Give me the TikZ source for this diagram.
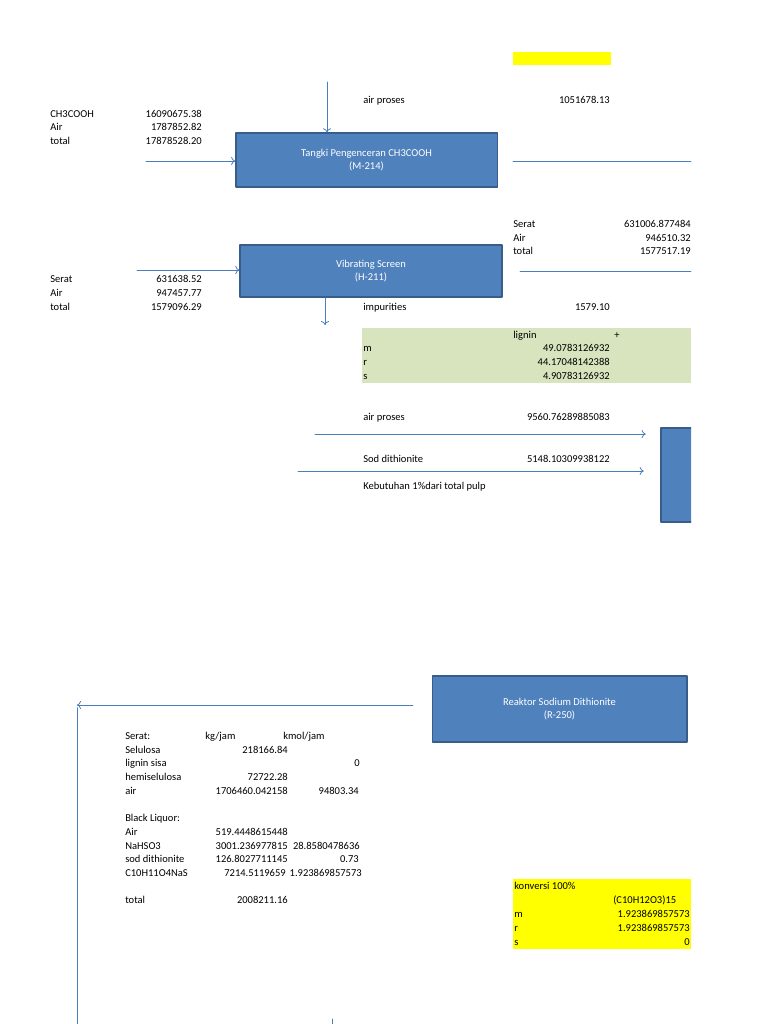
\documentclass[tikz,border=0pt]{standalone}
\usepackage{fontspec}
\setmainfont{Carlito}
\usetikzlibrary{arrows.meta}
\definecolor{unitblue}{HTML}{4F81BD}
\definecolor{unitedge}{HTML}{385D8A}
\definecolor{flowblue}{HTML}{4A7EBB}
\definecolor{tabgreen}{HTML}{D7E4BD}
\definecolor{tabyellow}{HTML}{FFFF00}
\tikzset{
  unit/.style={draw=unitedge, fill=unitblue, line width=1pt, text=white, align=center, inner sep=0pt},
  flow/.style={draw=flowblue, line width=0.6pt},
  lbl/.style={anchor=base west, inner sep=0pt},
  val/.style={anchor=base east, inner sep=0pt}
}
\begin{document}
\begin{tikzpicture}[x=0.75pt, y=-0.75pt, font=\fontsize{7.9}{9.6}\selectfont, line join=round, line cap=round, >={To[length=3pt,width=6pt]}]
\useasboundingbox (0,0) rectangle (768,1024);
\fill[tabyellow] (513,52) rectangle (611,65);
% tangki pengenceran
\node[unit, minimum width=196pt, minimum height=40.5pt] (m214) at (366.5,160) {Tangki Pengenceran CH3COOH\\(M-214)};
\coordinate (apin) at (327,82);
\draw[flow,->] (apin) -- (m214.north -| apin);
\node[lbl] (ap1) at (363,103.5) {air proses};
\node[val] (ap1v) at (610,103.5) {1051678.13};
\node[lbl] (acid) at (50,117.5) {CH3COOH};
\node[val] (acidv) at (202,117.5) {16090675.38};
\node[lbl] (acidair) at (50,130.5) {Air};
\node[val] (acidairv) at (202,130.5) {1787852.82};
\node[lbl] (acidtot) at (50,144.5) {total};
\node[val] (acidtotv) at (202,144.5) {17878528.20};
\coordinate (acidin) at (146,161);
\draw[flow,->] (acidin) -- (m214.west |- acidin);
\coordinate (m214a) at (513,161);
\coordinate (m214b) at (691,161);
\draw[flow] (m214a) -- (m214b);
% vibrating screen
\node[unit, minimum width=196.5pt, minimum height=39pt] (h211) at (371,271) {Vibrating Screen\\(H-211)};
\coordinate (pulpin) at (137,270);
\draw[flow,->] (pulpin) -- (h211.west |- pulpin);
\coordinate (impout) at (325,325);
\draw[flow,->] (h211.south -| impout) -- (impout);
\coordinate (h211a) at (520,271);
\coordinate (h211b) at (691,271);
\draw[flow] (h211a) -- (h211b);
\node[lbl] (ser1) at (513,227.5) {Serat};
\node[val] (ser1v) at (691,227.5) {631006.877484};
\node[lbl] (air1) at (513,241.5) {Air};
\node[val] (air1v) at (691,241.5) {946510.32};
\node[lbl] (tot1) at (513,254.5) {total};
\node[val] (tot1v) at (691,254.5) {1577517.19};
\node[lbl] (ser2) at (50,282.5) {Serat};
\node[val] (ser2v) at (202,282.5) {631638.52};
\node[lbl] (air2) at (50,296.5) {Air};
\node[val] (air2v) at (202,296.5) {947457.77};
\node[lbl] (tot2) at (50,310.5) {total};
\node[val] (tot2v) at (202,310.5) {1579096.29};
\node[lbl] (imp) at (363,310.5) {impurities};
\node[val] (impv) at (610,310.5) {1579.10};
% lignin
\fill[tabgreen] (362,328) rectangle (691,383);
\node[lbl] (lig) at (513,338.5) {lignin};
\node[lbl] (ligplus) at (614,338.5) {+};
\node[lbl] (ligm) at (363,351.5) {m};
\node[val] (ligmv) at (610,351.5) {49.0783126932};
\node[lbl] (ligr) at (363,365.5) {r};
\node[val] (ligrv) at (610,365.5) {44.17048142388};
\node[lbl] (ligs) at (363,379.5) {s};
\node[val] (ligsv) at (610,379.5) {4.90783126932};
% tangki
\begin{scope}
\clip (0,0) rectangle (691,1024);
\node[unit, minimum width=45pt, minimum height=70.5pt] (tank) at (691,475) {};
\end{scope}
\node[lbl] (ap2) at (363,420.5) {air proses};
\node[val] (ap2v) at (610,420.5) {9560.76289885083};
\coordinate (ap2in) at (315,434);
\draw[flow,->] (ap2in) -- ([xshift=-11pt]tank.west |- ap2in);
\node[lbl] (sod) at (363,462.5) {Sod dithionite};
\node[val] (sodv) at (610,462.5) {5148.10309938122};
\coordinate (sodin) at (298,471);
\draw[flow,->] (sodin) -- ([xshift=-12.5pt]tank.west |- sodin);
\node[lbl] (sodnote) at (363,489.5) {Kebutuhan 1\%dari total pulp};
% reaktor
\node[unit, minimum width=191pt, minimum height=49.5pt] (r250) at (559.5,709) {Reaktor Sodium Dithionite\\(R-250)};
\coordinate (r250out) at (77,705);
\coordinate (r250down) at (77,1024);
\draw[flow,->] ([xshift=-14pt]r250.west |- r250out) -- (r250out);
\draw[flow] ([yshift=-2pt]r250out) -- (r250down);
\coordinate (tick) at (332,1019);
\draw[flow] (tick) -- (tick |- r250down);
\node[lbl] (hser) at (125,739.5) {Serat:};
\node[lbl] (hkg) at (205,739.5) {kg/jam};
\node[lbl] (hkmol) at (283,739.5) {kmol/jam};
\node[lbl] (sel) at (125,753.2) {Selulosa};
\node[val] (selv) at (288,753.2) {218166.84};
\node[lbl] (ls) at (125,766.9) {lignin sisa};
\node[val] (lsv) at (360,766.9) {0};
\node[lbl] (hem) at (125,780.6) {hemiselulosa};
\node[val] (hemv) at (288,780.6) {72722.28};
\node[lbl] (air3) at (125,794.3) {air};
\node[val] (air3v) at (288,794.3) {1706460.042158};
\node[val] (air3m) at (359,794.3) {94803.34};
\node[lbl] (bl) at (125,821.7) {Black Liquor:};
\node[lbl] (blair) at (125,835.4) {Air};
\node[val] (blairv) at (288,835.4) {519.4448615448};
\node[lbl] (nah) at (125,849.1) {NaHSO3};
\node[val] (nahv) at (288,849.1) {3001.236977815};
\node[val] (nahm) at (360,849.1) {28.8580478636};
\node[lbl] (sdt) at (125,862.8) {sod dithionite};
\node[val] (sdtv) at (288,862.8) {126.8027711145};
\node[val] (sdtm) at (359,862.8) {0.73};
\node[lbl] (cna) at (125,876.5) {C10H11O4NaS};
\node[val] (cnav) at (286,876.5) {7214.5119659};
\node[val] (cnam) at (362,876.5) {1.923869857573};
\node[lbl] (tot3) at (125,903.9) {total};
\node[val] (tot3v) at (288,903.9) {2008211.16};
% konversi
\fill[tabyellow] (513,879) rectangle (691,949);
\node[lbl] (konv) at (514,889.5) {konversi 100\%};
\node[lbl] (poly) at (613,903.5) {(C10H12O3)15};
\node[lbl] (km) at (514,917.5) {m};
\node[val] (kmv) at (690,917.5) {1.923869857573};
\node[lbl] (kr) at (514,931.5) {r};
\node[val] (krv) at (690,931.5) {1.923869857573};
\node[lbl] (ks) at (514,945.5) {s};
\node[val] (ksv) at (690,945.5) {0};
\end{tikzpicture}
\end{document}
